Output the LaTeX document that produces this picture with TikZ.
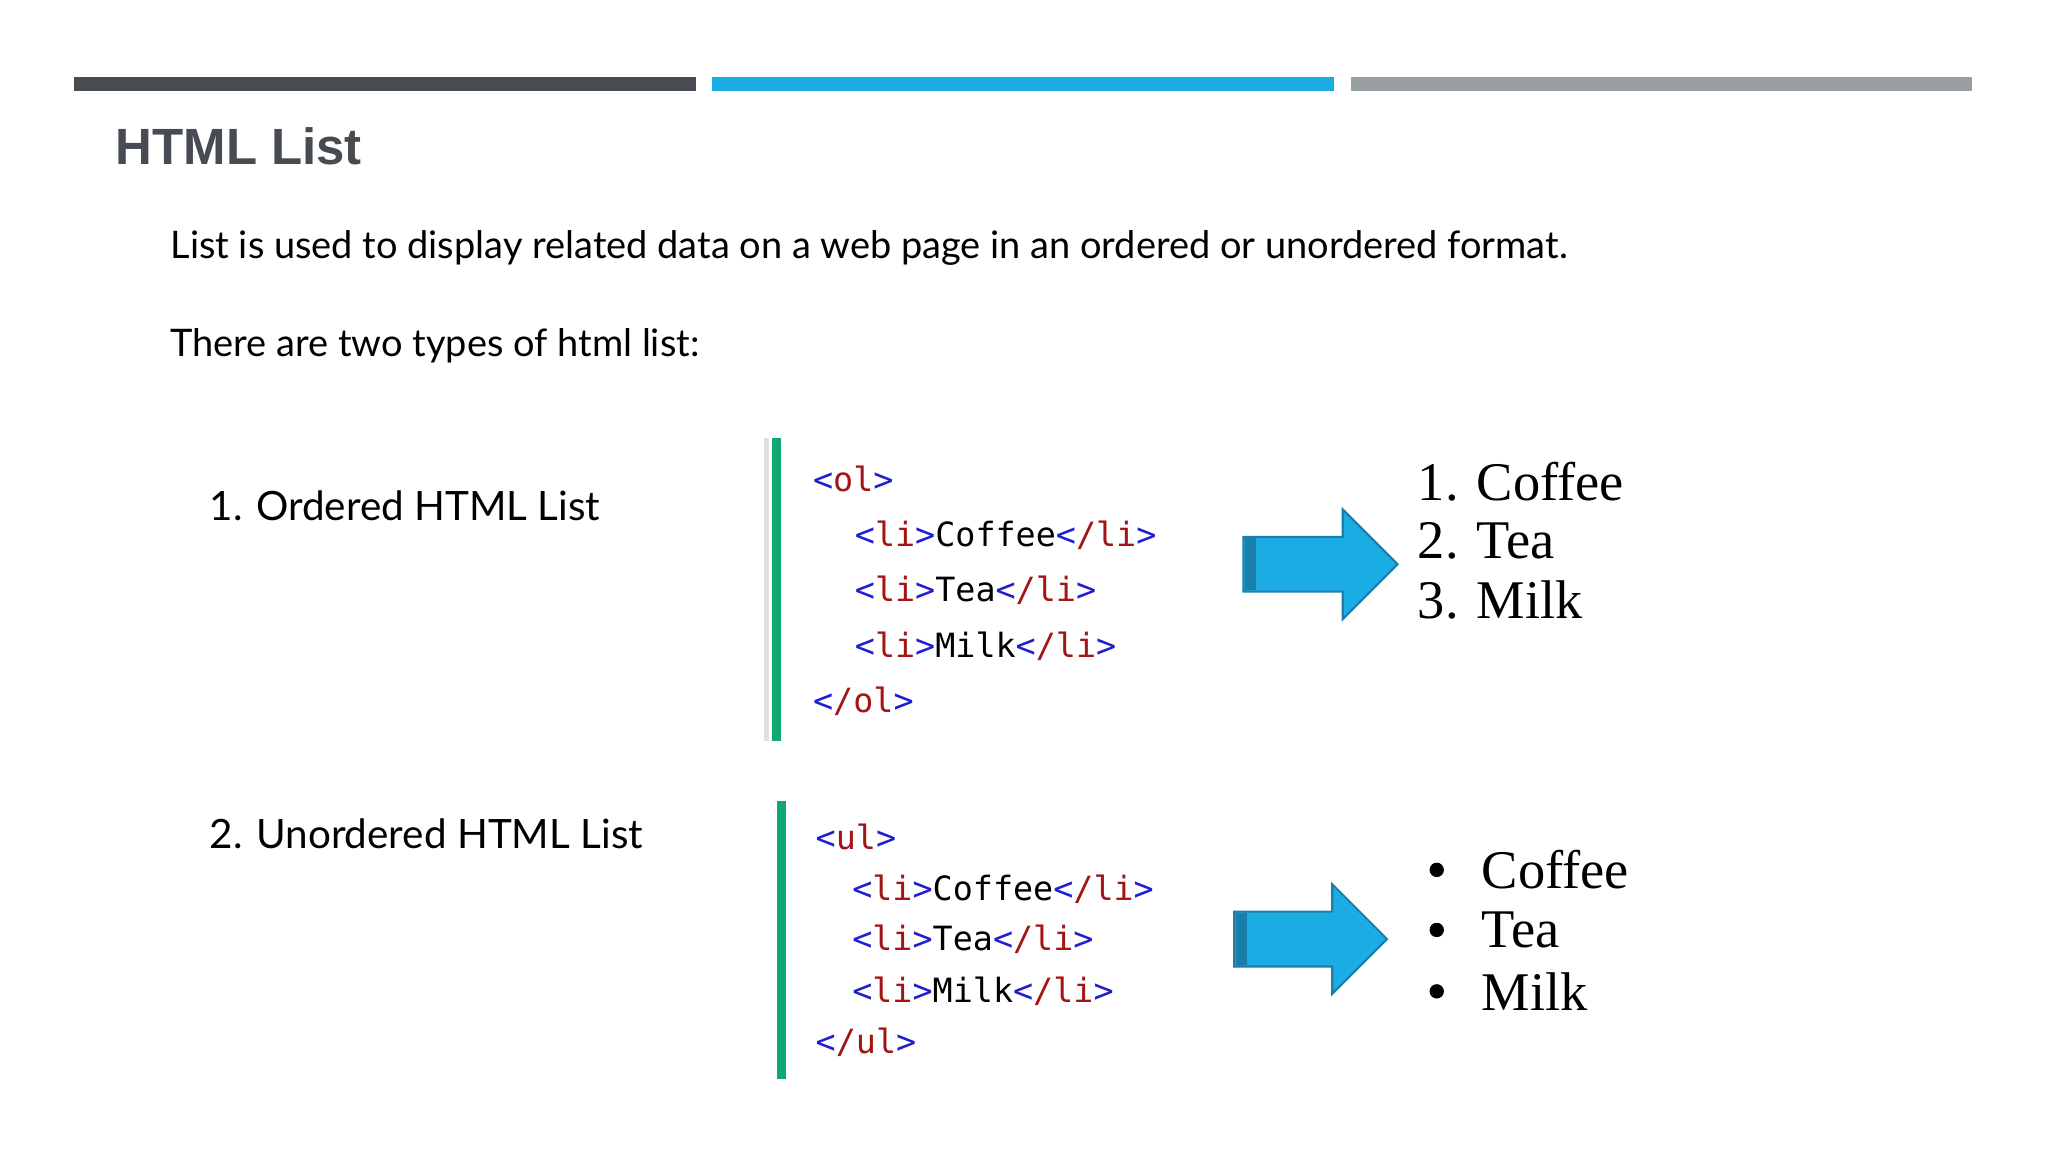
\documentclass[tikz,border=0pt]{standalone}
\usepackage{fontspec}
\setmainfont{Lato}
\newfontfamily\codefont{DejaVu Sans Mono}
\newfontfamily\serifout{Liberation Serif}
\newfontfamily\titlefont{Liberation Sans}
\definecolor{bardark}{HTML}{464C52}
\definecolor{barblue}{HTML}{1AACE3}
\definecolor{bargray}{HTML}{989FA3}
\definecolor{greenbar}{HTML}{0FA86E}
\definecolor{cblue}{HTML}{1F1FD0}
\definecolor{cred}{HTML}{A31515}
\definecolor{arrowfill}{HTML}{1AACE3}
\definecolor{arrowdark}{HTML}{1A7FA8}
\newcommand{\tg}[1]{\textcolor{cblue}{<}\textcolor{cred}{#1}\textcolor{cblue}{>}}
\begin{document}
\begin{tikzpicture}[x=0.01306cm,y=-0.01306cm,
  code/.style={anchor=west,inner sep=0,font=\codefont\fontsize{9.5}{11}\selectfont},
  outtxt/.style={anchor=west,inner sep=0,font=\serifout\fontsize{15.5}{18}\selectfont},
  label/.style={anchor=west,inner sep=0,font=\fontsize{11.5}{14}\selectfont},
  body/.style={anchor=west,inner sep=0,font=\fontsize{10.8}{13}\selectfont},
  blockarrow/.style={fill=arrowfill,draw=arrowdark,line width=0.6pt}]
\useasboundingbox (0,0) rectangle (1568,882);
\fill[white] (0,0) rectangle (1568,882);
% top bars
\fill[bardark] (57,59) rectangle (533,70);
\fill[barblue] (545,59) rectangle (1021,70);
\fill[bargray] (1034,59) rectangle (1510,70);
\node[anchor=west,inner sep=0,font=\titlefont\bfseries\fontsize{14.5}{17}\selectfont,text=bardark] (title) at (88,112) {HTML List};
\node[body] (b1) at (130,190) {List is used to display related data on a web page in an ordered or unordered format.};
\node[body] (b2) at (130,265) {There are two types of html list:};
\node[label] (l1) at (160,387) {1. Ordered HTML List};
\node[label] (l2) at (160,638) {2. Unordered HTML List};
% green bars
\fill[black!12] (585,335) rectangle (589,567);
\fill[greenbar] (591,335) rectangle (598,567);
\fill[greenbar] (595,613) rectangle (602,826);
% code 1
\node[code] (c1) at (622,367) {\tg{ol}};
\node[code] (c2) at (654,410) {\tg{li}Coffee\textcolor{cblue}{<}\textcolor{cred}{/li}\textcolor{cblue}{>}};
\node[code] (c3) at (654,452) {\tg{li}Tea\textcolor{cblue}{<}\textcolor{cred}{/li}\textcolor{cblue}{>}};
\node[code] (c4) at (654,495) {\tg{li}Milk\textcolor{cblue}{<}\textcolor{cred}{/li}\textcolor{cblue}{>}};
\node[code] (c5) at (622,537) {\textcolor{cblue}{<}\textcolor{cred}{/ol}\textcolor{cblue}{>}};
% code 2
\node[code] (d1) at (624,641) {\tg{ul}};
\node[code] (d2) at (652,681) {\tg{li}Coffee\textcolor{cblue}{<}\textcolor{cred}{/li}\textcolor{cblue}{>}};
\node[code] (d3) at (652,719) {\tg{li}Tea\textcolor{cblue}{<}\textcolor{cred}{/li}\textcolor{cblue}{>}};
\node[code] (d4) at (652,759) {\tg{li}Milk\textcolor{cblue}{<}\textcolor{cred}{/li}\textcolor{cblue}{>}};
\node[code] (d5) at (624,798) {\textcolor{cblue}{<}\textcolor{cred}{/ul}\textcolor{cblue}{>}};
% arrows
\draw[blockarrow] (952,411) -- (1028,411) -- (1028,390) -- (1070,432) -- (1028,474) -- (1028,453) -- (952,453) -- cycle;
\fill[arrowdark] (953,412) rectangle (962,452);
\draw[blockarrow] (945,698) -- (1020,698) -- (1020,677) -- (1062,719) -- (1020,761) -- (1020,740) -- (945,740) -- cycle;
\fill[arrowdark] (946,699) rectangle (955,739);
% outputs
\node[outtxt] (o1) at (1085,369) {1. Coffee};
\node[outtxt] (o2) at (1085,414) {2. Tea};
\node[outtxt] (o3) at (1085,459) {3. Milk};
\foreach \yy/\t [count=\i] in {666/Coffee,712/Tea,759/Milk}{
  \fill (1100,\yy) circle (5.5);
  \node[outtxt] (u\i) at (1134,\yy) {\t};
}
\end{tikzpicture}
\end{document}
